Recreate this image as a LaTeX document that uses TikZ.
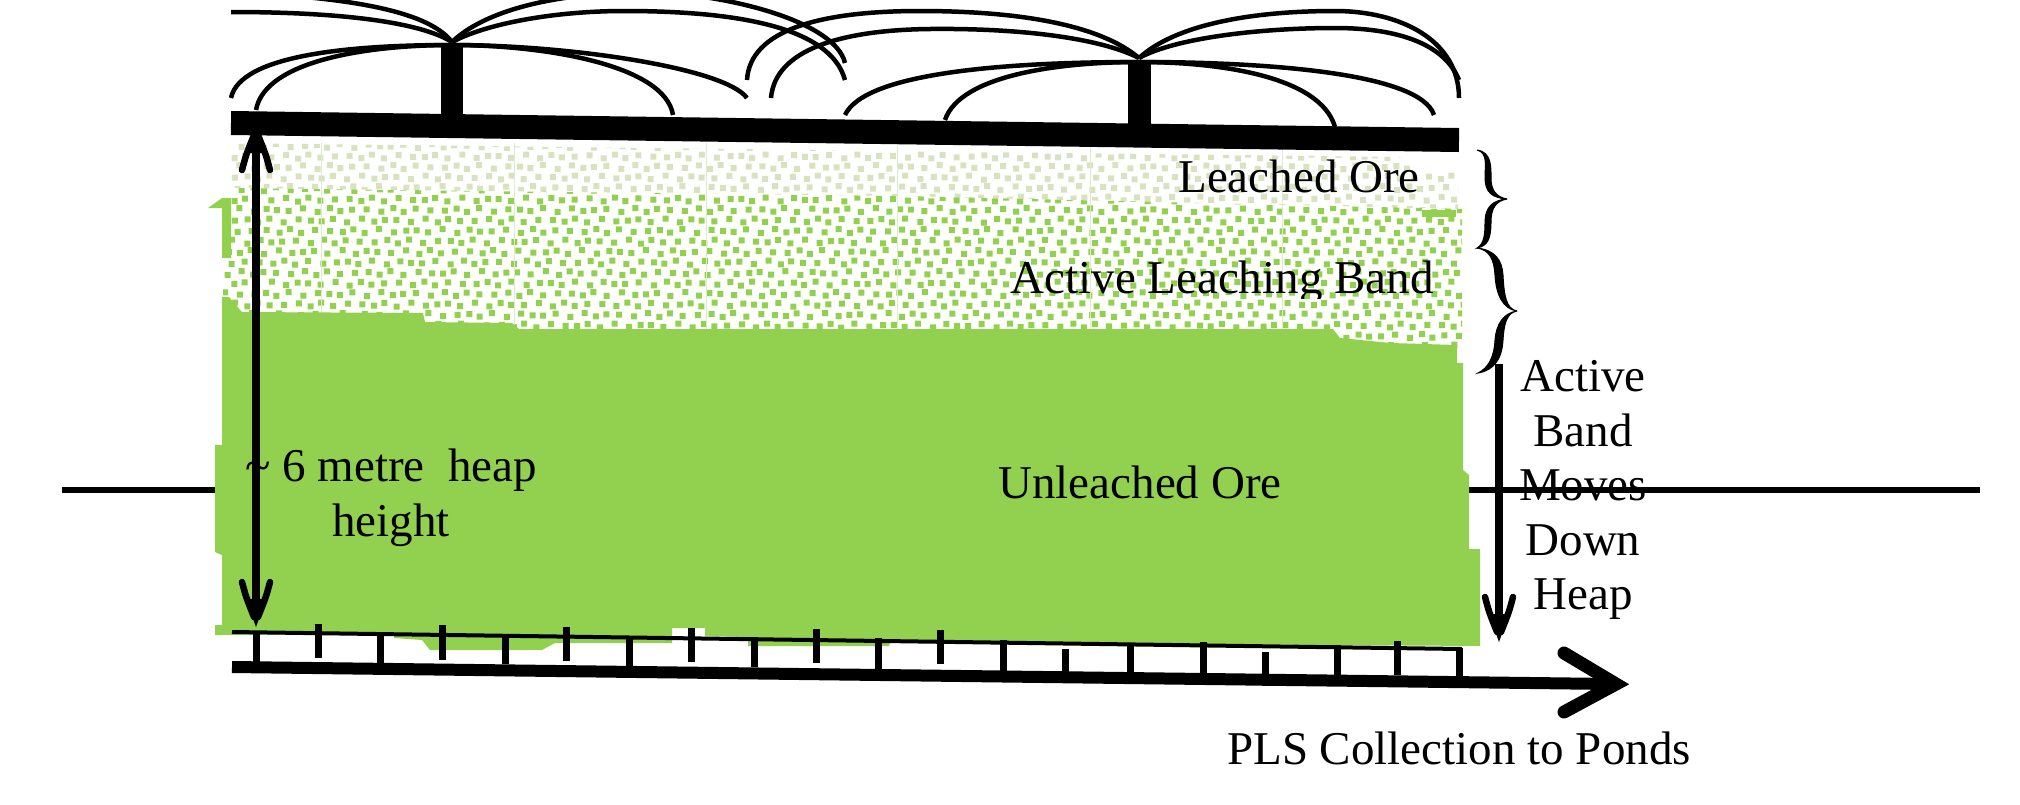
\documentclass[tikz,border=0pt]{standalone}
\usepackage{fontspec}
\setmainfont{Liberation Serif}
\definecolor{ore}{HTML}{92D050}
\definecolor{spent}{HTML}{D9E2C0}
\definecolor{seam}{HTML}{DDEDCB}
\tikzset{
  spray/.style = {line width = 4.5pt},
  label/.style = {inner sep = 0pt, font = \fontsize{47}{54.5}\selectfont, align = center},
  curly/.style = {fill, line width = 1pt},
  barbs/.pic = {
    \fill (0, 0) -- (-10, -28) -- (10, -28) -- cycle;
    \draw [line width = 6.5pt, line cap = round] (-14, -45) .. controls (-10, -30) .. (-2, -10);
    \draw [line width = 6.5pt, line cap = round] (14, -45) .. controls (10, -30) .. (2, -10);
  }
}
\begin{document}
\begin{tikzpicture}[x = 1pt, y = -1pt]
\useasboundingbox (0, 0) rectangle (2020, 804);
\clip (0, 0) rectangle (2020, 804);
% ground line
\coordinate (groundL) at (62, 490);
\coordinate (groundR) at (1980, 490);
\draw [line width = 6pt] (groundL) -- (groundR);
% leached ore dots
\begin{scope}
\clip (231, 143) -- (1400, 157) -- (1420, 172) -- (1458, 172) -- (1458, 209) -- (900, 196) -- (231, 188) -- cycle;
\fill [spent] \foreach \j in {0, ..., 7} {\foreach \i in {0, ..., 98} {
  ({224 + 12.7*\i + 6.35*mod(\j, 2) + 2*sin(73*\i + 137*\j)}, {143 + 10.5*\j + 2*sin(151*\i + 59*\j)}) rectangle ++(6, 6)}};
\end{scope}
% active band dots
\begin{scope}
\clip (231, 188) -- (900, 196) -- (1462, 209) -- (1462, 350) -- (223, 350) -- (223, 258) -- (231, 258) -- cycle;
\fill [ore] \foreach \j in {0, ..., 17} {\foreach \i in {0, ..., 98} {
  ({224 + 12.7*\i + 6.35*mod(\j, 2) + 2*sin(73*\i + 137*\j)}, {186 + 10.5*\j + 2*sin(151*\i + 59*\j)}) rectangle ++(6, 6)}};
\end{scope}
% seams in the dots
\foreach \x in {321, 514, 706, 897, 1090, 1282} {
  \draw [seam, line width = 1pt] (\x, 143) -- (\x, 330);
}
% bits of green round the dots
\fill [ore] (208, 208) -- (222, 198) -- (231, 198) -- (231, 258) -- (222, 258) -- (222, 208) -- cycle;
\fill [ore] (1422, 210) rectangle (1456, 217);
% unleached ore
\fill [ore] (222, 297) -- (229, 297) -- (242, 312) -- (423, 313) -- (425, 322) -- (512, 323)
  -- (519, 329) -- (1333, 329) -- (1340, 338) -- (1391, 343) -- (1457, 345) -- (1457, 363)
  -- (1463, 363) -- (1463, 470) -- (1469, 475) -- (1469, 549) -- (1480, 549) -- (1480, 646)
  -- (890, 642) -- (889, 646) -- (748, 646) -- (748, 637) -- (705, 636) -- (705, 628)
  -- (672, 628) -- (672, 643) -- (555, 643) -- (542, 650) -- (430, 650) -- (422, 640)
  -- (394, 638) -- (394, 634) -- (215, 635) -- (215, 625) -- (222, 625) -- (222, 555)
  -- (215, 552) -- (215, 445) -- (222, 445) -- cycle;
% sprinkler header and risers
\coordinate (barL) at (231, 123);
\coordinate (barR) at (1459, 140);
\coordinate (head1) at (452, 45);
\coordinate (head2) at (1139, 62);
\draw [line width = 24pt] (barL) -- (barR);
\draw [line width = 22pt] (head1) -- (452, 126);
\draw [line width = 23pt] (head2) -- (1139, 136);
% spray from the first head
\draw [spray] (head1) .. controls (350, 45) and (240, 55) .. (231, 98);
\draw [spray] (head1) .. controls (370, 45) and (265, 60) .. (256, 110);
\draw [spray] (head1) .. controls (570, 45) and (725, 68) .. (747, 98);
\draw [spray] (head1) .. controls (545, 45) and (665, 65) .. (673, 115);
\draw [spray] (452, 42) .. controls (420, 22) and (340, 12) .. (231, 12);
\draw [spray] (452, 42) .. controls (435, 20) and (390, 5) .. (305, -3);
\draw [spray] (452, 42) .. controls (480, 15) and (540, -6) .. (640, -8)
  .. controls (720, -8) and (835, 20) .. (845, 63);
\draw [spray] (452, 42) .. controls (490, 22) and (560, 11) .. (624, 11)
  .. controls (730, 11) and (830, 25) .. (845, 80);
% spray from the second head
\draw [spray] (head2) .. controls (1260, 62) and (1420, 72) .. (1434, 115);
\draw [spray] (head2) .. controls (1215, 62) and (1320, 75) .. (1335, 127);
\draw [spray] (head2) .. controls (1010, 62) and (865, 72) .. (845, 115);
\draw [spray] (head2) .. controls (1060, 62) and (960, 75) .. (945, 120);
\draw [spray] (1139, 58) .. controls (1175, 25) and (1250, 11) .. (1335, 11)
  .. controls (1400, 11) and (1459, 40) .. (1459, 98);
\draw [spray] (1139, 58) .. controls (1175, 38) and (1260, 28) .. (1335, 28)
  .. controls (1400, 28) and (1445, 45) .. (1459, 80);
\draw [spray] (1139, 58) .. controls (1100, 25) and (1020, 11) .. (920, 11)
  .. controls (820, 11) and (750, 30) .. (747, 80);
\draw [spray] (1139, 58) .. controls (1100, 38) and (1020, 28) .. (930, 29)
  .. controls (840, 30) and (775, 50) .. (771, 98);
% collection pipes and their ticks
\coordinate (pipeL) at (232, 632);
\coordinate (pipeR) at (1462, 649);
\coordinate (drainL) at (232, 667);
\coordinate (drainR) at (1612, 684);
\draw [line width = 4pt] (pipeL) -- (pipeR);
\foreach \x/\a/\b in {256/634/662, 318/624/658, 380/635/663, 442/625/660, 505/637/664,
  566/627/661, 629/638/666, 691/628/662, 754/637/667, 816/629/663, 878/638/669,
  940/630/664, 1003/640/672, 1065/649/672, 1130/643/672, 1203/642/673, 1265/652/686,
  1337/645/675, 1397/641/675, 1459/648/677} {
  \draw [line width = 7pt] (\x, \a) -- (\x, \b);
}
\draw [line width = 12pt] (drainL) -- (drainR);
\draw [line width = 13pt, line cap = round, line join = miter] (1564, 653) -- (1616, 684) -- (1564, 712);
% height and band arrows
\coordinate (heapT) at (256, 125);
\coordinate (heapB) at (256, 627);
\coordinate (bandT) at (1499, 364);
\coordinate (bandB) at (1499, 642);
\draw [line width = 7.5pt, shorten >= 20pt, shorten <= 20pt] (heapT) -- (heapB);
\draw [line width = 7.5pt, shorten >= 20pt] (bandT) -- (bandB);
\pic at (heapB) {barbs};
\pic [yscale = -1] at (heapT) {barbs};
\pic at (bandB) {barbs};
% braces
\draw [curly] (1477, 150) .. controls (1492, 152) and (1491, 168) .. (1491, 178)
  .. controls (1491, 190) and (1496, 197) .. (1507, 199)
  .. controls (1492, 198) and (1485, 192) .. (1485, 178)
  .. controls (1485, 165) and (1488, 153) .. (1477, 150);
\draw [curly] (1507, 199) .. controls (1496, 201) and (1491, 208) .. (1491, 222)
  .. controls (1491, 238) and (1488, 246) .. (1477, 248)
  .. controls (1484, 244) and (1485, 235) .. (1485, 222)
  .. controls (1485, 208) and (1492, 200) .. (1507, 199);
\draw [curly] (1477, 248) .. controls (1495, 250) and (1502, 260) .. (1503, 275)
  .. controls (1504, 295) and (1506, 309) .. (1517, 311)
  .. controls (1503, 309) and (1496, 295) .. (1495, 275)
  .. controls (1494, 260) and (1490, 250) .. (1477, 248);
\draw [curly] (1517, 311) .. controls (1506, 313) and (1504, 325) .. (1503, 340)
  .. controls (1502, 358) and (1495, 370) .. (1478, 373)
  .. controls (1488, 368) and (1494, 358) .. (1495, 340)
  .. controls (1496, 325) and (1503, 313) .. (1517, 311);
% labels
\node (leached) [label, anchor = base] at (1299, 192) {Leached Ore};
\begin{scope}
\clip (900, 240) rectangle (1500, 298);
\node (band) [label, anchor = base] at (1222, 293) {Active Leaching Band};
\end{scope}
\node (unleached) [label, anchor = base] at (1140, 498) {Unleached Ore};
\node (height) [label] at (391, 498) {\textasciitilde\ 6 metre\ \ heap\\height};
\node (moves) [label] at (1583, 490) {Active\\Band\\Moves\\Down\\Heap};
\node (pls) [label, anchor = base] at (1459, 764) {PLS Collection to Ponds};
\end{tikzpicture}
\end{document}
